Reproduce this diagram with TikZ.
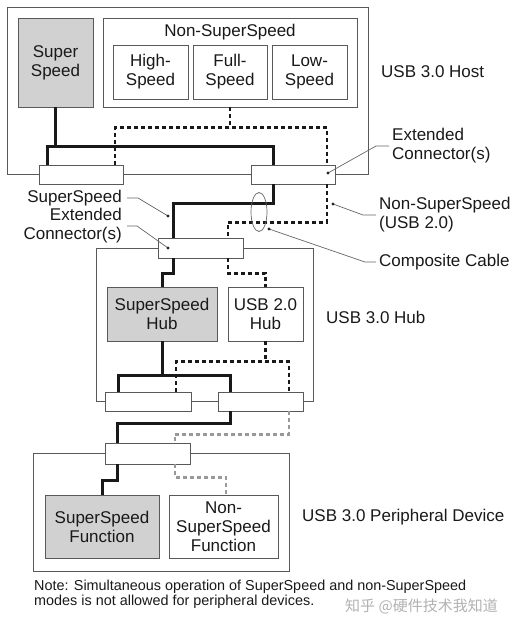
\documentclass[tikz,border=0pt]{standalone}
\usepackage{fontspec}
\setmainfont{Liberation Sans}
\newfontfamily\cjkfont{Noto Sans CJK SC}
\usetikzlibrary{calc}

\begin{document}
\begin{tikzpicture}[x=1pt,y=-1pt,
        box/.style={draw=black!65, line width=0.9pt, fill=white, inner sep=0pt, align=center, font=\fontsize{17}{19}\selectfont, text=black!90},
        graybox/.style={box, fill=black!18},
        conn/.style={draw=black!65, line width=0.9pt, fill=white, minimum width=85, minimum height=19, inner sep=0pt},
        sspath/.style={line width=3pt, black!90},
        nsspath/.style={line width=2.7pt, black!90, dash pattern=on 4pt off 3pt},
        nssgray/.style={nsspath, black!40},
        lead/.style={black!60, line width=0.7pt},
        lbl/.style={font=\fontsize{17}{19}\selectfont, text=black!90, inner sep=0pt}]
        \useasboundingbox (0,0) rectangle (512,620);
        %%%HOST%%%
        \node[box, minimum width=361, minimum height=167] (host) at (187.5,90.5) {};
        \node[graybox, minimum width=75, minimum height=89] (ssh) at (55.5,62.5) {Super\\Speed};
        \node[box, minimum width=254, minimum height=89] (nssh) at (230,62.5) {};
        \node[lbl] (nssht) at (230,32) {Non-SuperSpeed};
        \node[box, minimum width=75, minimum height=54] (hs) at (150.5,72) {High-\\Speed};
        \node[box, minimum width=74, minimum height=54] (fs) at (230,72) {Full-\\Speed};
        \node[box, minimum width=75, minimum height=54] (ls) at (309.5,72) {Low-\\Speed};
        \node[conn, minimum width=84] (hcl) at (81,174.5) {};
        \node[conn, minimum width=84] (hcr) at (293,174.5) {};
        \node[lbl, anchor=west] (hostt) at (381,72) {USB 3.0 Host};
        %%%HUB%%%
        \node[box, minimum width=217, minimum height=153] (hub) at (204.5,324.5) {};
        \node[conn, minimum height=20] (hubu) at (200.5,248) {};
        \node[graybox, minimum width=110, minimum height=54] (ssb) at (162,314) {SuperSpeed\\Hub};
        \node[box, minimum width=75, minimum height=54] (u2b) at (265.5,314) {USB 2.0\\Hub};
        \node[conn, minimum width=86] (hdl) at (148,401.5) {};
        \node[conn] (hdr) at (260.5,401.5) {};
        \node[lbl, anchor=west] (hubt) at (326,317) {USB 3.0 Hub};
        %%%DEVICE%%%
        \node[box, minimum width=256, minimum height=118] (dev) at (161,512) {};
        \node[conn, minimum height=21] (devc) at (147.5,453.5) {};
        \node[graybox, minimum width=114, minimum height=63] (ssf) at (102,526.5) {SuperSpeed\\Function};
        \node[box, minimum width=109, minimum height=63] (nsf) at (223.5,526.5) {Non-\\SuperSpeed\\Function};
        \node[lbl, anchor=west] (devt) at (302,517) {USB 3.0 Peripheral Device};
        %superspeed
        \draw[sspath] (ssh.south) -- ++(0,40);
        \draw[sspath] ([xshift=-34]hcl.north) -- ++(0,-18) -| ([xshift=-20]hcr.north);
        \draw[sspath] ([xshift=-20]hcr.south) -- ++(0,19) -| ([xshift=-27.5]hubu.north);
        \draw[sspath] ([xshift=-27.5]hubu.south) -- ++(0,15) -| (ssb.north);
        \draw[sspath] (ssb.south) -- ++(0,35);
        \draw[sspath] ([xshift=-30]hdl.north) -- ++(0,-16) -| ([xshift=-30.5]hdr.north);
        \draw[sspath] ([xshift=-30.5]hdr.south) -- ++(0,12) -| ([xshift=-30.5]devc.north);
        \draw[sspath] ([xshift=-30.5]devc.south) -- ++(0,16) -| (ssf.north);
        %non-superspeed
        \draw[nsspath] (nssh.south) -- ++(0,21);
        \draw[nsspath] ([xshift=34]hcl.north) -- ++(0,-37) -| ([xshift=34]hcr.north);
        \draw[nsspath] ([xshift=34]hcr.south) -- ++(0,38) -| ([xshift=27.5]hubu.north);
        \draw[nsspath] ([xshift=27.5]hubu.south) -- ++(0,15) -| (u2b.north);
        \draw[nsspath] (u2b.south) -- ++(0,21);
        \draw[nsspath] ([xshift=28]hdl.north) -- ++(0,-30) -| ([xshift=28.5]hdr.north);
        \draw[nssgray] ([xshift=28.5]hdr.south) -- ++(0,23) -| ([xshift=27.5]devc.north);
        \draw[nssgray] ([xshift=27.5]devc.south) -- ++(0,13) -| ([xshift=2.5]nsf.north);
        %%%CALLOUTS%%%
        \draw (328,173) coordinate (dech);
        \draw (168,216) coordinate (dss);
        \draw (168,248) coordinate (decu);
        \draw (333,204) coordinate (dnss);
        \draw (269,229) coordinate (dcc);
        \node[lbl, anchor=west, align=left] (echt) at (392,146) {Extended\\Connector(s)};
        \node[lbl, anchor=east] (sst) at (122,198) {SuperSpeed};
        \node[lbl, anchor=east, align=right] (ecut) at (122,226) {Extended\\Connector(s)};
        \node[lbl, anchor=west, align=left] (nsst) at (379,215) {Non-SuperSpeed\\(USB 2.0)};
        \node[lbl, anchor=west] (cct) at (379,262) {Composite Cable};
        \draw[lead] (dech) -- (376,146) -- ([xshift=-3]echt.west);
        \draw[lead] ([xshift=5]sst.east) -- (138,198) -- (dss);
        \draw[lead] ([xshift=5]ecut.east) -- (137,226) -- (decu);
        \draw[lead] (dnss) -- (363,215) -- ([xshift=-3]nsst.west);
        \draw[lead] (dcc) -- (365,262) -- ([xshift=-3]cct.west);
        \draw[lead] (259,212) ellipse [x radius=8, y radius=19.5];
        \foreach \d in {dech,dss,decu,dnss,dcc}
            \fill[black!85] (\d) circle [radius=1.7];
        %note
        \node[lbl, anchor=north west, align=left, font=\fontsize{14.4}{15}\selectfont] (note) at (34,580) {Note: Simultaneous operation of SuperSpeed and non-SuperSpeed\\modes is not allowed for peripheral devices.};
        \node[anchor=west, inner sep=0pt, text=black!30, font=\cjkfont\fontsize{15}{15}\selectfont] (wm) at (345,606) {知乎 @硬件技术我知道};
    \end{tikzpicture}
\end{document}
